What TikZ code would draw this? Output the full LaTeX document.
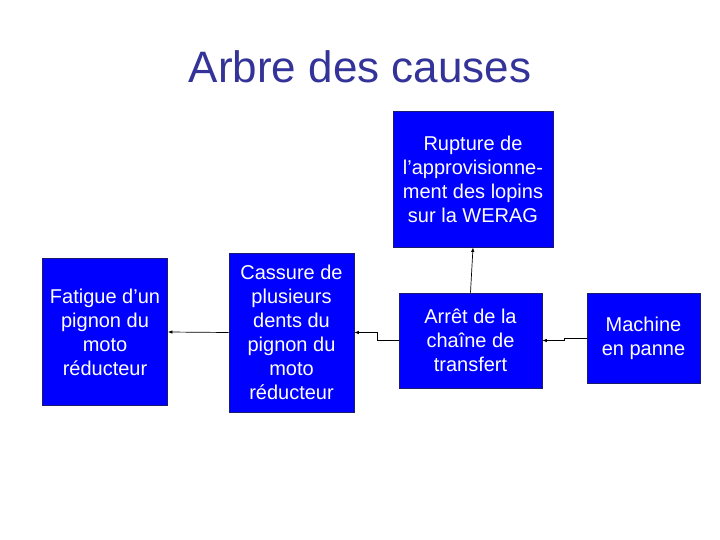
\documentclass[tikz,border=0pt]{standalone}
\usepackage{fontspec}
\setmainfont{Liberation Sans}
\usetikzlibrary{arrows.meta}
\definecolor{titleblue}{HTML}{333399}
\definecolor{boxblue}{HTML}{0000FF}
\definecolor{boxedge}{HTML}{1A1A6E}
\tikzset{
  causebox/.style={draw=boxedge, line width=0.8pt, fill=boxblue, text=white, align=center,
    inner sep=0pt, font=\fontsize{20}{24}\selectfont},
  link/.style={draw=black, line width=0.7pt, -{Latex[length=4.5pt,width=3.5pt]}},
}
\begin{document}
\begin{tikzpicture}[x=1pt,y=-1pt]
\useasboundingbox (0,0) rectangle (720,540);
\node[font=\fontsize{44}{50}\selectfont, text=titleblue, anchor=base] (title) at (360,83) {Arbre des causes};
\node[causebox, minimum width=160pt, minimum height=136pt] (rup) at (473,179)
  {Rupture de\\l’approvisionne-\\ment des lopins\\sur la WERAG};
\node[causebox, minimum width=125pt, minimum height=147pt] (fat) at (105,332)
  {Fatigue d’un\\pignon du\\moto\\réducteur};
\node[causebox, minimum width=125pt, minimum height=159pt] (cas) at (291.5,332.5)
  {Cassure de\\plusieurs\\dents du\\pignon du\\moto\\réducteur};
\node[causebox, minimum width=143pt, minimum height=95pt] (arr) at (470.5,340.5)
  {Arrêt de la\\chaîne de\\transfert};
\node[causebox, minimum width=113pt, minimum height=90pt] (mac) at (643.5,338)
  {Machine\\en panne};
\coordinate (s1) at (377,340.5);
\coordinate (s2) at (564,338);
\draw[link] (arr.north) -- (rup.south);
\draw[link] (arr.west) -- (s1) |- (cas.east);
\draw[link] (cas.west) -- (fat.east);
\draw[link] (mac.west) -- (s2) |- (arr.east);
\end{tikzpicture}
\end{document}
